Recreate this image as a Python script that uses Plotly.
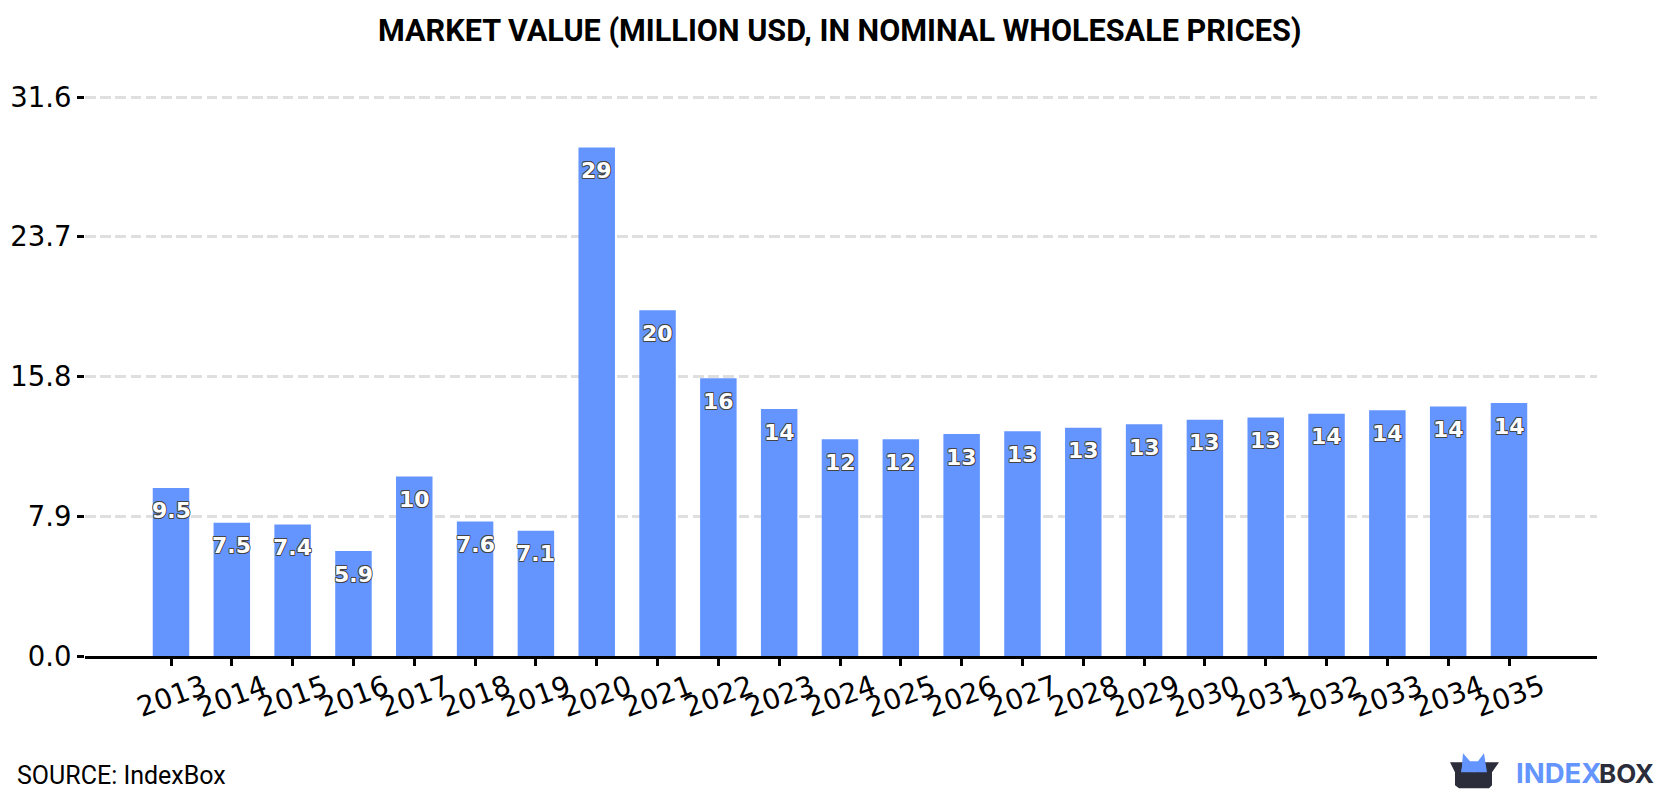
import plotly.graph_objects as go

years = [str(y) for y in range(2013, 2036)]
market_value = [9.5, 7.53, 7.44, 5.93, 10.15, 7.6, 7.08, 28.75, 19.55, 15.7, 13.96, 12.26,
                12.25, 12.55, 12.7, 12.9, 13.1, 13.35, 13.49, 13.7, 13.9, 14.1, 14.3]
y_ticks = [0.0, 7.9, 15.8, 23.7, 31.6]

TITLE = "MARKET VALUE (MILLION USD, IN NOMINAL WHOLESALE PRICES)"
SOURCE = "SOURCE: IndexBox"
BLUE = "#6495ff"
DARK = "#2b2d3a"

W, H = 1680, 800
L, R, T, B = 85, 83, 95.5, 143.5
Y_MAX = 31.66
OUTLINE = ",".join(f"{dx}px {dy}px 0 #444" for dx, dy in
                   [(-0.8, 0), (0.8, 0), (0, -0.8), (0, 0.8), (-0.6, -0.6), (0.6, -0.6), (-0.6, 0.6), (0.6, 0.6)])


def page_x(px):
    return (px - L) / (W - L - R)


def page_y(py):
    return (H - B - py) / (H - T - B)


def logo_path(points):
    return "M" + " L".join(f"{page_x(x):.5f},{page_y(y):.5f}" for x, y in points) + " Z"


fig = go.Figure(go.Bar(x=years, y=market_value, marker=dict(color=BLUE, line_width=0), width=0.6))

# On a category axis annotations are placed by the category's serial number
for idx, (year, value) in enumerate(zip(years, market_value)):
    fig.add_annotation(
        xref="x", yref="y", x=idx, y=value, yshift=-23, text=f"{value:.2g}", showarrow=False,
        yanchor="middle",
        font=dict(family="DejaVu Sans", size=22, color="white", weight="bold", shadow=OUTLINE),
    )
    # Year labels are rotated about their centre under each tick
    fig.add_annotation(
        xref="x", yref="y", x=idx, y=0, yshift=-40, text=year, textangle=-20, showarrow=False,
        xanchor="center", yanchor="middle", font=dict(family="DejaVu Sans", size=28, color="#000"),
    )

fig.add_annotation(
    xref="paper", yref="paper", x=page_x(840), y=page_y(30), text=f"<b>{TITLE}</b>", showarrow=False,
    xanchor="center", yanchor="middle", font=dict(family="Roboto", size=30.6, color="#000"),
)
fig.add_annotation(
    xref="paper", yref="paper", x=page_x(15), y=page_y(776), text=SOURCE, showarrow=False,
    xanchor="left", yanchor="middle", font=dict(family="Roboto", size=25, color="#000"),
)
fig.add_annotation(
    xref="paper", yref="paper", x=page_x(1516), y=page_y(774), text="<b>INDEX</b>", showarrow=False,
    xanchor="left", yanchor="middle", xshift=-2, font=dict(family="Inter", size=27.5, color=BLUE),
)
fig.add_annotation(
    xref="paper", yref="paper", x=page_x(1599), y=page_y(774), text="<b>BOX</b>", showarrow=False,
    xanchor="left", yanchor="middle", xshift=-2, font=dict(family="Inter", size=26, color=DARK),
)

# Logo: an open box with a blue crown rising out of it
crown = [(1461.5, 772), (1463, 754), (1470, 762), (1478, 762), (1484, 754), (1487, 773), (1475, 773), (1471, 772.5)]
box = [(1450, 763), (1499, 763), (1492, 773), (1492, 786), (1489, 789), (1459, 789), (1455, 786), (1455, 773)]
flap = [(1463, 763), (1481, 763), (1475, 773), (1461, 773)]
fig.add_shape(type="path", xref="paper", yref="paper", path=logo_path(box), fillcolor=DARK, line_width=0)
fig.add_shape(type="path", xref="paper", yref="paper", path=logo_path(crown), fillcolor=BLUE, line_width=0)
fig.add_shape(type="path", xref="paper", yref="paper", path=logo_path(flap), fillcolor=BLUE, line_width=0)

fig.update_layout(
    width=W, height=H, margin=dict(l=L, r=R, t=T, b=B, autoexpand=False),
    paper_bgcolor="white", plot_bgcolor="white", showlegend=False,
    font=dict(family="DejaVu Sans", color="#000"),
    xaxis=dict(
        type="category", range=[-1.414, 23.447], showticklabels=False, showgrid=False,
        showline=True, linecolor="#000", linewidth=3, ticks="outside", ticklen=7, tickwidth=3,
        tickcolor="#000", zeroline=False,
    ),
    yaxis=dict(
        range=[0, Y_MAX], tickvals=y_ticks, tickformat=".1f", ticks="outside", ticklen=7, tickwidth=3,
        tickcolor="#000", tickfont=dict(size=27.5), showgrid=True, gridcolor="#dfdfdf", gridwidth=3,
        griddash="10.5px,4.7px", zeroline=False, showline=False,
    ),
)

fig.write_html("out.html")
